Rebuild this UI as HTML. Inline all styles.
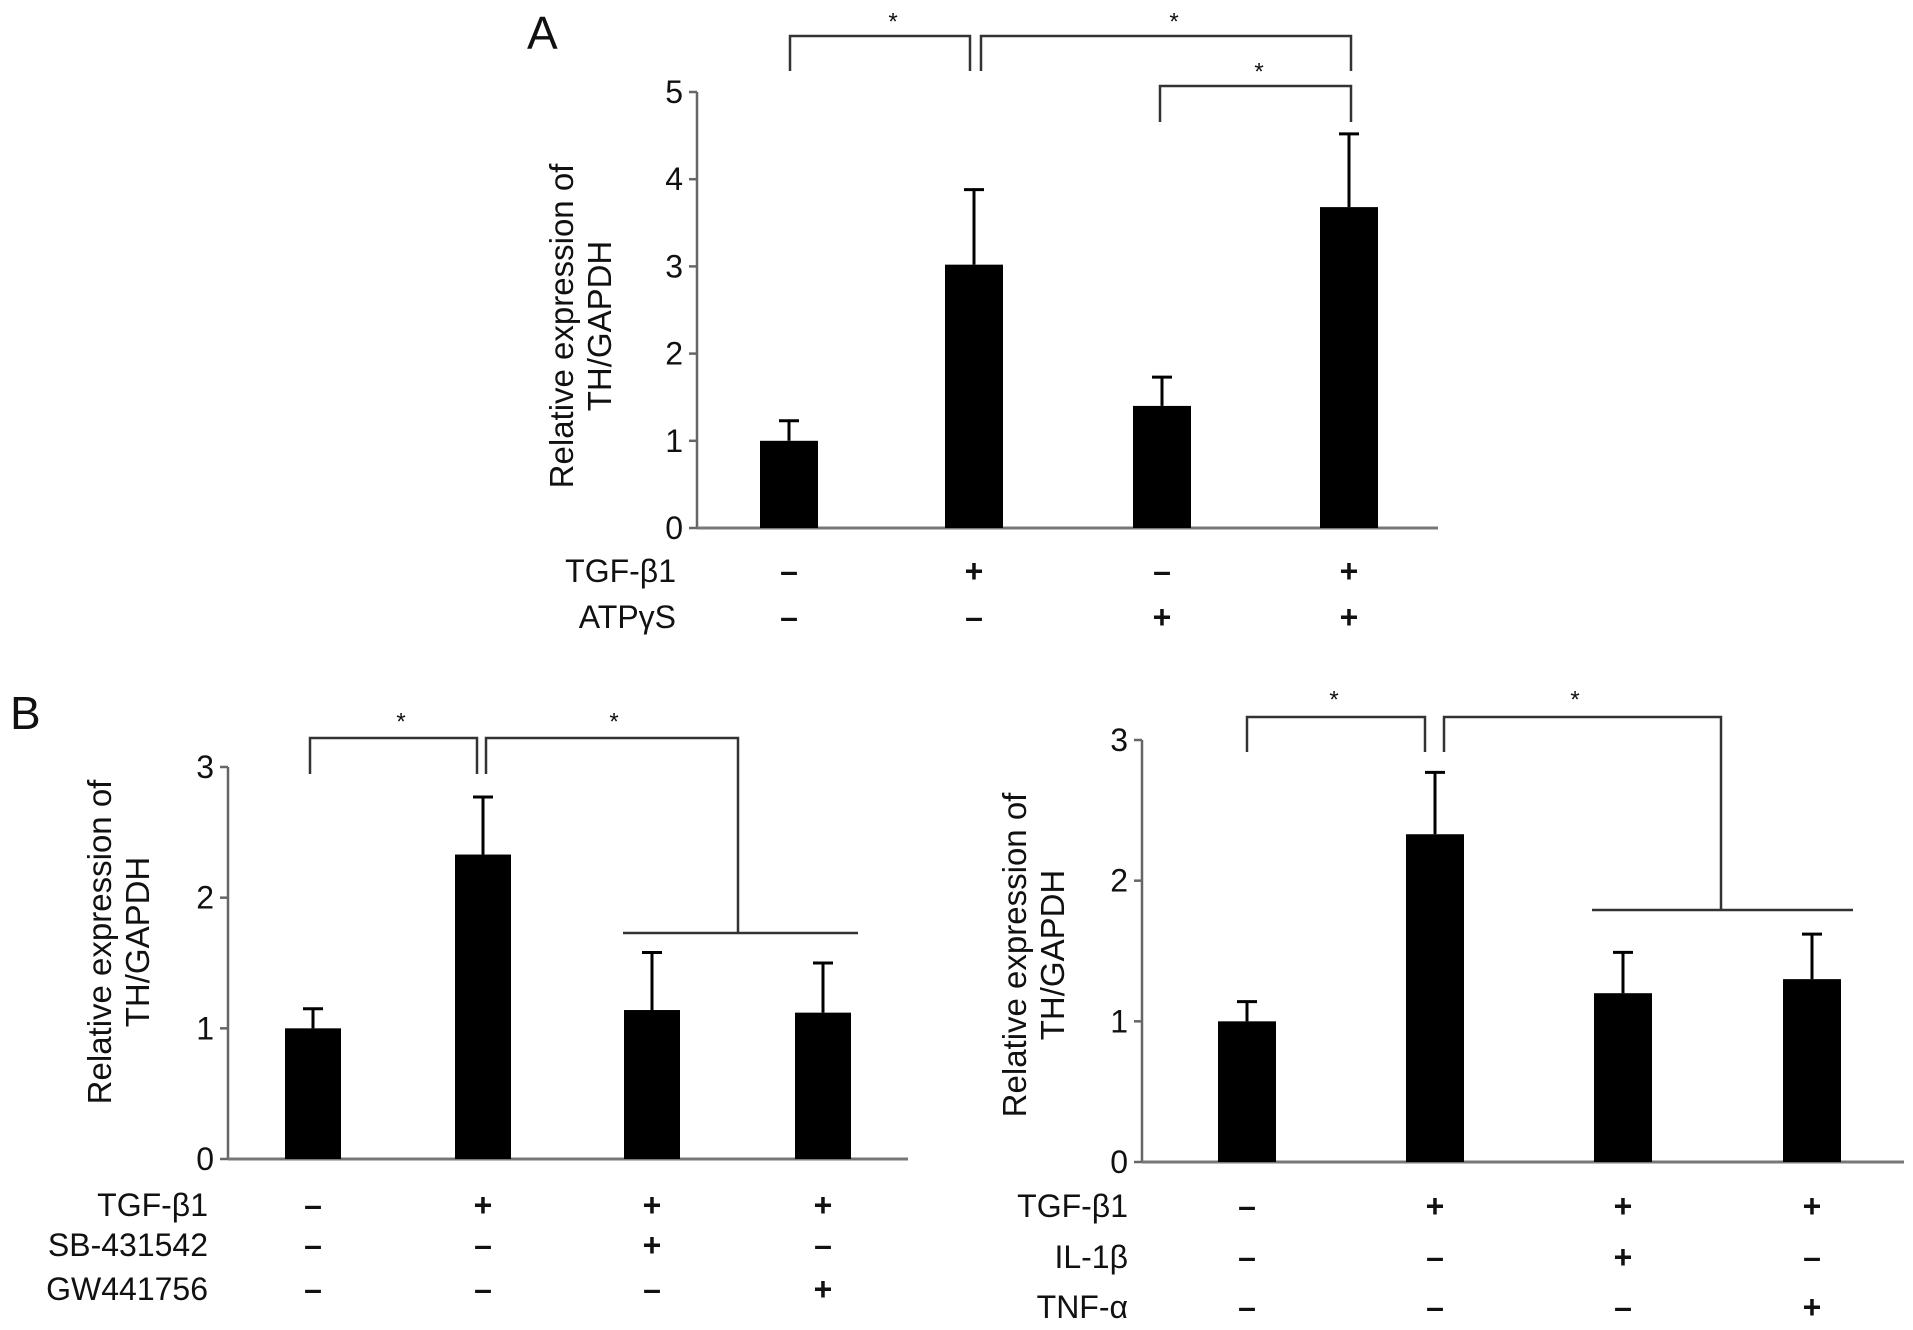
<!DOCTYPE html>
<html><head><meta charset="utf-8"><style>
html,body{margin:0;padding:0;background:#fff;}
svg{display:block;font-family:"Liberation Sans",Arial,sans-serif;}
</style></head><body>
<svg id="fig" width="1913" height="1330" viewBox="0 0 1913 1330"></svg>
<script>
// Panel A data
const aValues = [1.0, 3.02, 1.4, 3.68];
const aErrors = [1.23, 3.88, 1.73, 4.52];
const aTicks = [0, 1, 2, 3, 4, 5];
const aRowNames = ["TGF-\u03b21", "ATP\u03b3S"];
const aRows = [["\u2013","+","\u2013","+"],["\u2013","\u2013","+","+"]];
// Panel B left data
const bValues = [1.0, 2.33, 1.14, 1.12];
const bErrors = [1.15, 2.77, 1.58, 1.5];
const bTicks = [0, 1, 2, 3];
const bRowNames = ["TGF-\u03b21", "SB-431542", "GW441756"];
const bRows = [["\u2013","+","+","+"],["\u2013","\u2013","+","\u2013"],["\u2013","\u2013","\u2013","+"]];
// Panel B right data
const cValues = [1.0, 2.33, 1.2, 1.3];
const cErrors = [1.14, 2.77, 1.49, 1.62];
const cTicks = [0, 1, 2, 3];
const cRowNames = ["TGF-\u03b21", "IL-1\u03b2", "TNF-\u03b1"];
const cRows = [["\u2013","+","+","+"],["\u2013","\u2013","+","\u2013"],["\u2013","\u2013","\u2013","+"]];

const NS = "http://www.w3.org/2000/svg";
const svg = document.getElementById("fig");
function mk(tag, attrs, parent) {
  const e = document.createElementNS(NS, tag);
  for (const k in attrs) e.setAttribute(k, attrs[k]);
  (parent || svg).appendChild(e);
  return e;
}
function txt(x, y, s, size, anchor, parent) {
  const t = mk("text", {x: x, y: y, "font-size": size, "text-anchor": anchor || "middle", "dominant-baseline": "central", fill: "#111"}, parent);
  t.textContent = s;
  return t;
}

function panel(cfg) {
  const g = mk("g", {});
  
  
  const yScale = v => cfg.y0 - (v - cfg.tmin) / (cfg.tmax - cfg.tmin) * (cfg.y0 - cfg.yTop);
  const ax = mk("line", {x1: cfg.axX, y1: yScale(cfg.tmax), x2: cfg.axX, y2: cfg.y0, stroke: "#666", "stroke-width": 2.5}, g);
  
  
  const xa = mk("line", {x1: cfg.axX, y1: cfg.y0, x2: cfg.axEnd, y2: cfg.y0, stroke: "#777", "stroke-width": 3}, g);
  
  
  cfg.ticks.forEach(t => {
    const y = yScale(t);
    mk("line", {x1: cfg.axX - 8, y1: y, x2: cfg.axX, y2: y, stroke: "#666", "stroke-width": 2.5}, g);
    const tl = txt(cfg.axX - 14, y, String(t), 32, "end", g);
    
    
  });
  const tt = mk("text", {"font-size": 33, "text-anchor": "middle", fill: "#111", transform: "translate(" + cfg.titleX + "," + cfg.titleY + ") rotate(-90)"}, g);
  
  
  const t1 = mk("tspan", {x: 0, y: 0}, tt); t1.textContent = "Relative expression of";
  const t2 = mk("tspan", {x: 0, dy: 38}, tt); t2.textContent = "TH/GAPDH";
  cfg.values.forEach((v, i) => {
    const cx = cfg.centers[i];
    const b = mk("rect", {x: cx - cfg.bw / 2, y: yScale(v), width: cfg.bw, height: cfg.y0 - yScale(v), fill: "#000"}, g);
    
    
    const e = mk("path", {d: "M" + cx + "," + yScale(v) + "V" + yScale(cfg.errors[i]) + "M" + (cx - 10) + "," + yScale(cfg.errors[i]) + "H" + (cx + 10), stroke: "#000", "stroke-width": 3, fill: "none"}, g);
    
    
  });
  cfg.rowNames.forEach((n, r) => {
    const y = cfg.rowY[r];
    const l = txt(cfg.rowLabelX, y, n, 32, "end", g);
    
    
    cfg.rows[r].forEach((s, i) => {
      const m = txt(cfg.centers[i], y, s, 32, "middle", g);
      m.setAttribute('font-weight', 'bold');
      
      
    });
  });
  cfg.brackets.forEach(b => {
    const p = mk("path", {d: b.d, stroke: "#333", "stroke-width": 2.5, fill: "none"}, g);
    
    
    const s = txt(b.sx, b.sy, "*", 24, "middle", g);
    
    
  });
  const L = txt(cfg.letterX, cfg.letterY, cfg.letter, 46, "start", g);
  
  
}

panel({name: "panel-a-chart", values: aValues, errors: aErrors, ticks: aTicks, tmin: 0, tmax: 5,
  rowNames: aRowNames, rows: aRows, axX: 697, axEnd: 1438, y0: 528, yTop: 92,
  centers: [789, 974, 1162, 1349], bw: 58, titleX: 573, titleY: 326, rowLabelX: 676, rowY: [571, 617],
  letter: "A", letterX: 527, letterY: 33,
  brackets: [
    {d: "M790,71V36H970V71", sx: 893, sy: 22},
    {d: "M981,71V36H1351V71", sx: 1174, sy: 22},
    {d: "M1160,122V86H1351V122", sx: 1259, sy: 72}
  ]});

panel({name: "panel-b-left-chart", values: bValues, errors: bErrors, ticks: bTicks, tmin: 0, tmax: 3,
  rowNames: bRowNames, rows: bRows, axX: 228, axEnd: 908, y0: 1159, yTop: 767,
  centers: [313, 483, 652, 823], bw: 56, titleX: 111, titleY: 942, rowLabelX: 208, rowY: [1205, 1245, 1289],
  letter: "B", letterX: 10, letterY: 713,
  brackets: [
    {d: "M310,774V738H477V774", sx: 401, sy: 722},
    {d: "M486,774V738H738V933M623,933H858", sx: 614, sy: 722}
  ]});

panel({name: "panel-b-right-chart", values: cValues, errors: cErrors, ticks: cTicks, tmin: 0, tmax: 3,
  rowNames: cRowNames, rows: cRows, axX: 1142, axEnd: 1904, y0: 1162, yTop: 740,
  centers: [1247, 1435, 1623, 1812], bw: 58, titleX: 1026, titleY: 955, rowLabelX: 1128, rowY: [1206, 1257, 1307],
  letter: "", letterX: 0, letterY: 0,
  brackets: [
    {d: "M1247,752V717H1425V752", sx: 1334, sy: 700},
    {d: "M1444,752V717H1721V910M1592,910H1853", sx: 1575, sy: 700}
  ]});
</script>
</body></html>
